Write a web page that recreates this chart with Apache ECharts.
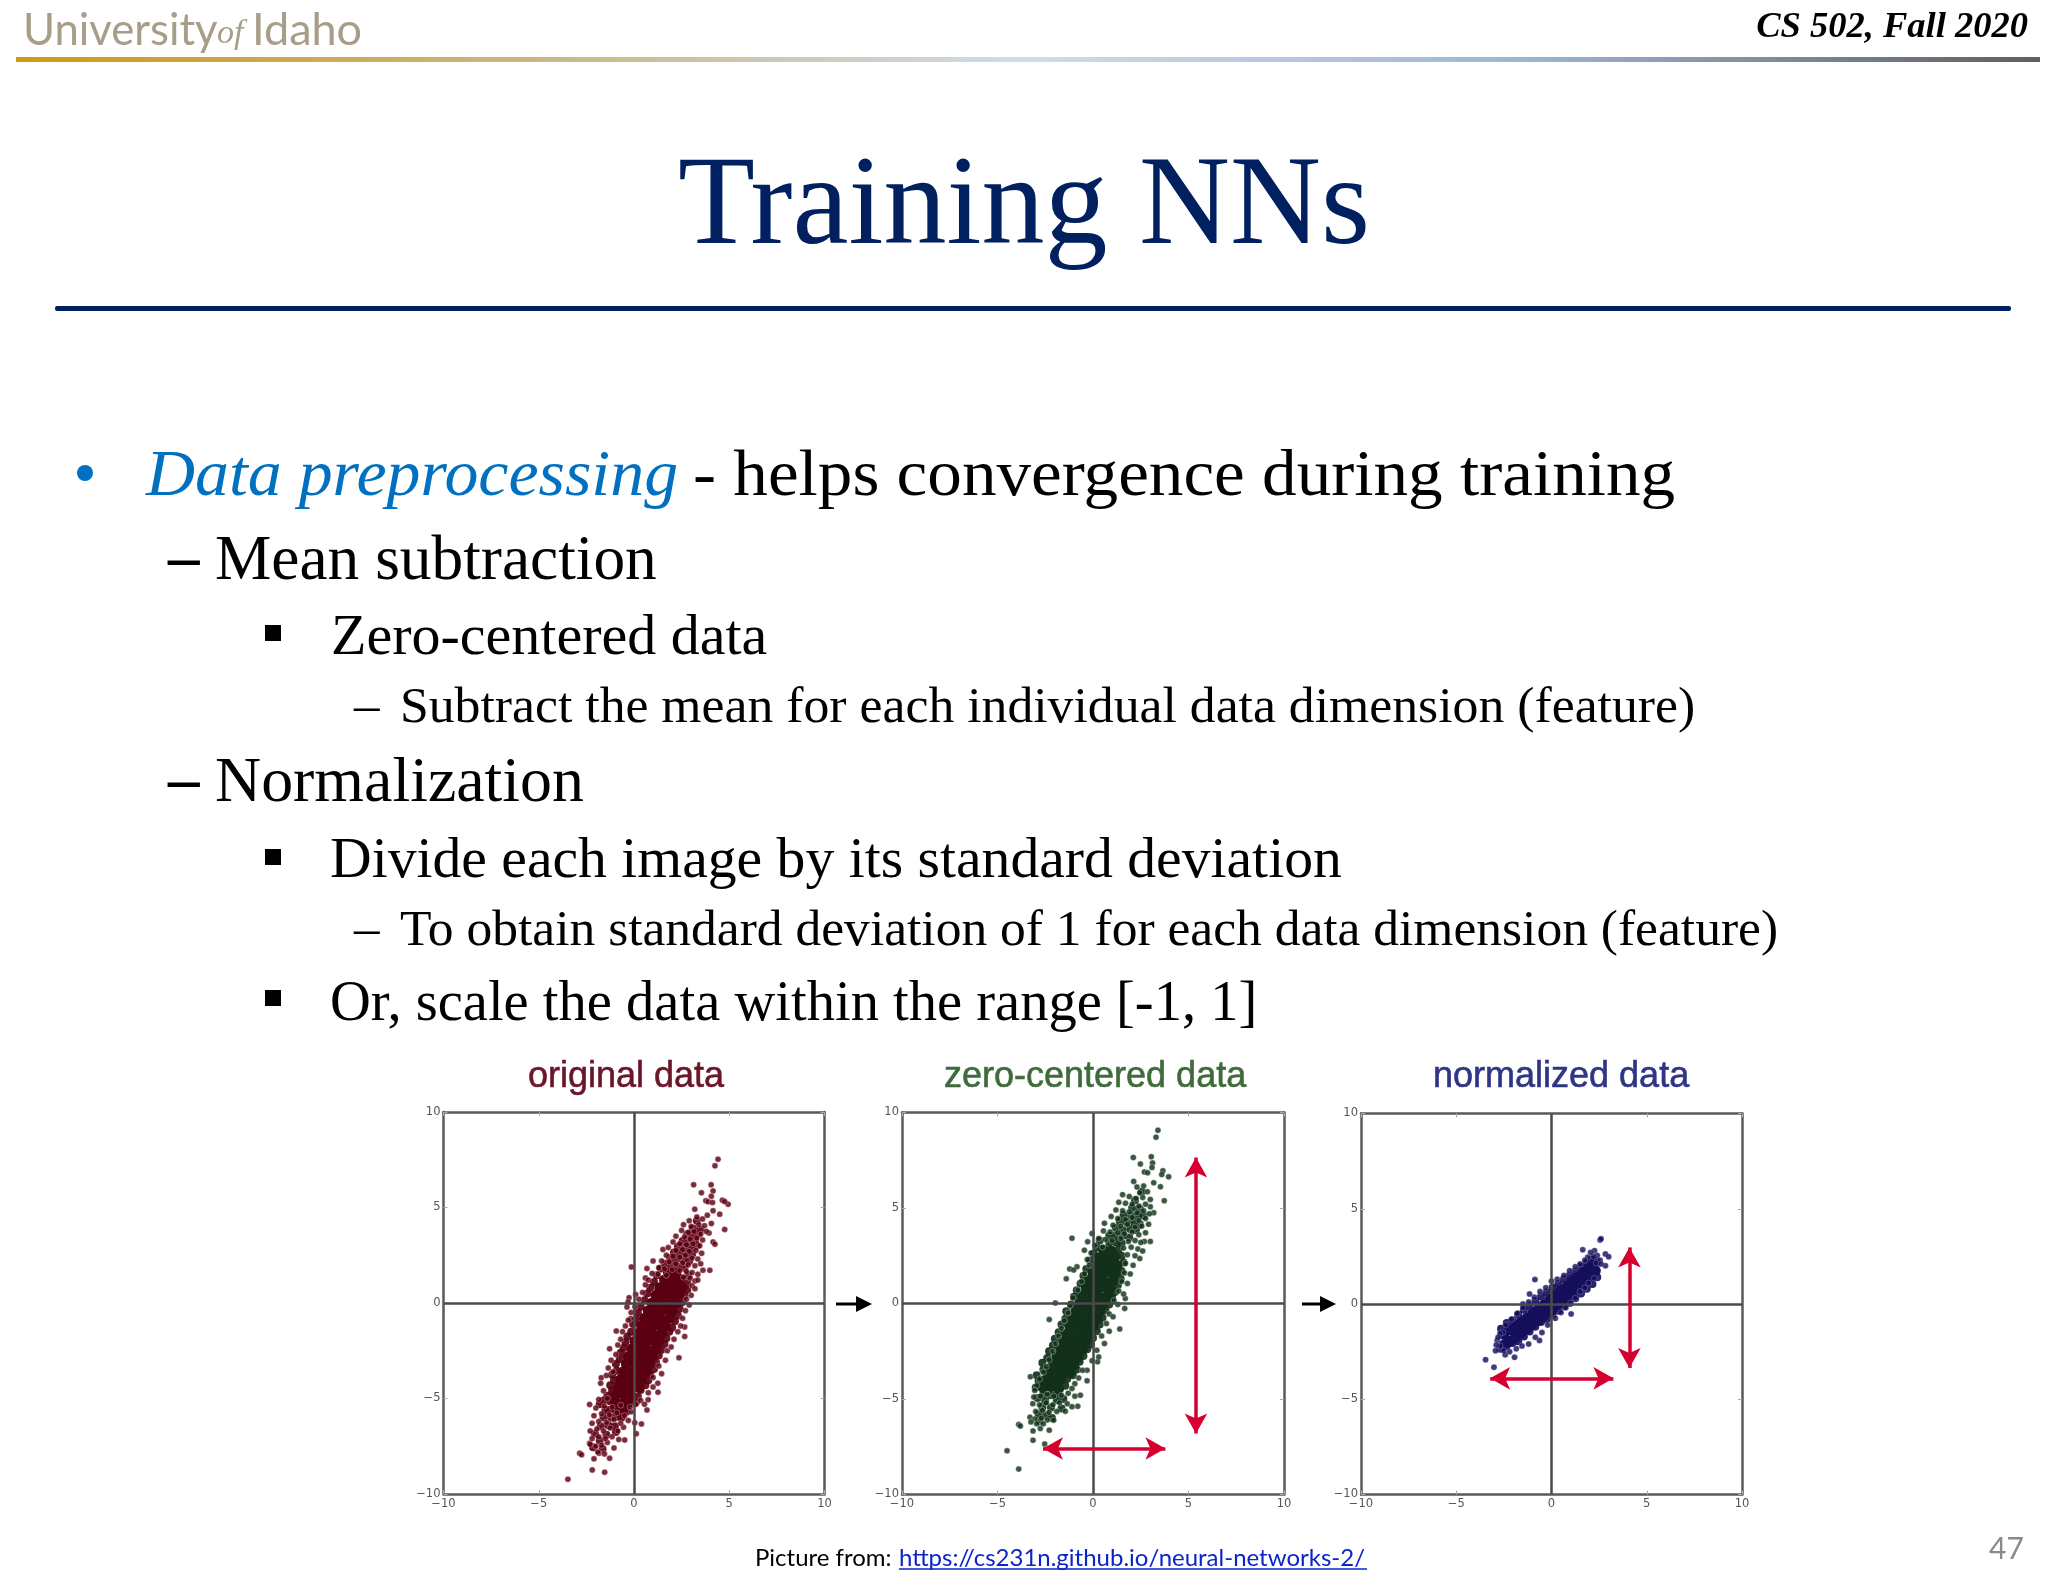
<!DOCTYPE html>
<html>
<head>
<meta charset="utf-8">
<title>Training NNs</title>
<script src="https://cdn.jsdelivr.net/npm/echarts@6/dist/echarts.min.js"></script>
<style>
html,body{margin:0;padding:0;background:#fff}
#main{width:2048px;height:1582px}
</style>
</head>
<body>
<div id="main"></div>
<script>
var axisTicks = [-10, -5, 0, 5, 10];
var plotTitles = ['original data', 'zero-centered data', 'normalized data'];

// points, dense middle of each cloud is drawn with bigger dots
var originalOuter = [
[4.41,7.53],[4.25,7.18],[3.13,6.19],[4.05,6.19],[3.54,5.77],[4.15,5.87],[4.06,5.59],[3.77,5.35],[3.89,5.3],[4.12,5.26],[4.64,5.38],[4.94,5.17],[4.76,5.31],
[3.19,4.91],[4.15,4.83],[4.5,4.65],[4.76,3.85],[4.06,4.16],[3.94,3.67],[4.15,3.2],[4.25,3.08],[3.98,1.71],[3.62,1.71],[-0.14,1.89],[0.68,1.8],[0.6,1.31],[1.0,2.2],[1.52,2.8],
[0.09,0.44],[-0.26,0.28],[-0.31,0.05],[-0.37,-0.21],[-0.18,-0.82],[-0.93,-1.47],[-1.28,-2.4],[2.36,-2.87],[2.66,-1.75],[2.66,-1.26],[1.26,-4.67],[0.74,-5.07],[0.68,-5.6],
[0.39,-6.33],[0.12,-6.85],[0.04,-6.27],[-0.49,-7.17],[-1.05,-7.59],[-1.28,-8.13],[-1.54,-8.86],[-2.19,-8.74],[-2.1,-8.16],[-2.85,-7.87],[-2.75,-7.95],[-3.47,-9.23],[-1.84,-7.87],[-2.33,-7.34],[-2.33,-5.31],[-1.72,-3.92],
[2.9,4.3],[3.3,4.5],[3.6,4.4],[3.85,4.6],[2.6,4.1],[3.0,4.0],[3.4,4.1],[3.7,4.05],[2.5,3.8],[2.85,3.7],[3.15,3.75],[3.5,3.6],[3.8,3.75],[2.2,3.5],[2.65,3.45],[2.95,3.35],[3.3,3.4],[3.6,3.3],
[2.05,3.2],[2.4,3.1],[2.75,3.05],[3.1,3.1],[3.45,3.0],[1.8,2.9],[2.2,2.75],[2.55,2.8],[2.9,2.7],[3.25,2.75],[3.55,2.6],[1.7,2.5],[2.05,2.45],[2.4,2.4],[2.7,2.5],[3.05,2.35],[3.35,2.3],
[1.45,2.2],[1.85,2.15],[2.2,2.05],[2.55,2.1],[2.85,2.0],[3.2,1.95],[3.5,2.05],[1.3,1.85],[1.6,1.8],[2.0,1.75],[2.4,1.7],[2.75,1.65],[3.05,1.6],[3.35,1.5],[1.25,1.5],[1.7,1.45],[2.6,1.35],[2.95,1.3],[3.2,1.15],
[-2.3,-7.4],[-2.0,-7.5],[-1.7,-7.45],[-1.4,-7.3],[-1.9,-7.8],[-1.55,-7.9],[-2.2,-7.1],[-1.85,-7.0],[-1.5,-7.1],[-1.15,-7.0],[-0.8,-7.15],[-2.3,-6.7],[-1.95,-6.6],[-1.6,-6.7],[-1.25,-6.55],[-0.85,-6.7],[-0.55,-6.5],
[-2.2,-6.3],[-1.85,-6.2],[-1.45,-6.25],[-1.05,-6.1],[-0.7,-6.3],[-0.3,-6.15],[-2.1,-5.9],[-1.7,-5.8],[-1.3,-5.85],[-0.9,-5.75],[-0.5,-5.9],[-0.15,-5.7],[-2.0,-5.5],[-1.55,-5.4],[-1.15,-5.45],[-0.7,-5.35],[-0.2,-5.45],[0.1,-5.3],
[-1.85,-5.05],[-1.4,-5.0],[0.35,-5.1],[0.55,-5.3],[-1.6,-4.6],[-1.75,-4.2],[-1.45,-3.8],[-1.35,-3.4],[-1.1,-3.6],[-1.2,-3.0],[-0.95,-2.7],[-0.85,-2.2],[-0.7,-1.9],[-0.6,-1.5],[-0.45,-1.2],[-0.3,-0.9],[-0.15,-0.5],[0.05,-0.2],[0.25,0.2],[0.45,0.55],[0.6,0.95],[0.75,1.2],[0.95,1.55],
[0.75,-4.7],[1.0,-4.4],[1.25,-4.2],[1.0,-3.9],[1.45,-3.7],[1.3,-3.3],[1.65,-3.0],[1.75,-2.5],[1.95,-2.3],[2.1,-1.9],[2.3,-1.5],[2.45,-1.2],[2.55,-0.8],[2.7,-0.4],[2.9,-0.1],[2.75,0.2],[3.0,0.4],[3.05,0.9],[3.2,0.75],[3.35,1.2]
];
var originalMid = [
[-1.35,-5.6],[-1.25,-5.15],[-1.4,-4.85],[-1.15,-4.6],[-1.25,-4.3],[-1.05,-4.05],[-1.15,-3.75],[-0.9,-3.55],[-0.95,-3.2],[-0.75,-2.95],[-0.7,-2.6],[-0.55,-2.35],[-0.45,-2.05],[-0.35,-1.75],[-0.15,-1.5],[-0.05,-1.1],[0.1,-0.85],[0.2,-0.5],[0.35,-0.2],[0.55,0.15],[0.7,0.5],[0.85,0.8],[1.05,1.1],[1.2,1.45],[1.4,1.8],
[0.1,-5.2],[0.2,-4.9],[0.35,-4.55],[0.6,-4.3],[0.75,-4.05],[0.85,-3.75],[1.05,-3.45],[1.15,-3.1],[1.3,-2.75],[1.45,-2.45],[1.6,-2.15],[1.7,-1.85],[1.85,-1.5],[2.0,-1.3],[2.15,-0.95],[2.3,-0.65],[2.4,-0.3],[2.55,0.05],[2.65,0.4],[2.8,0.7],[2.8,1.05],[2.85,1.45],
[-1.6,-6.0],[-1.2,-6.0],[-0.85,-5.95],[-1.5,-5.6],[-1.8,-5.3],[-1.6,-5.1],[-1.35,-6.4],[-1.0,-6.45],[-0.65,-6.0],[-0.4,-5.7],[-0.95,-6.75],[-1.45,-6.9],[-1.75,-6.45],[-2.05,-6.85],[-1.8,-7.2],[-2.15,-7.55],[-1.65,-7.65],
[1.65,2.05],[2.0,2.0],[2.3,1.9],[2.65,1.85],[1.9,2.35],[2.25,2.3],[2.6,2.25],[2.9,2.2],[2.1,2.65],[2.45,2.6],[2.75,2.6],[3.05,2.55],[2.3,2.95],[2.65,2.9],[3.0,2.85],[3.3,3.0],[2.55,3.25],[2.85,3.2],[3.2,3.25],[2.8,3.6],[3.05,3.55],[3.35,3.6],[3.1,3.9],[3.5,3.85],[3.3,4.3]
];
var originalCore = [
[-0.9,-5.6],[-0.5,-5.55],[-1.0,-5.2],[-0.6,-5.25],[-0.2,-5.15],[-0.95,-4.8],[-0.55,-4.75],[-0.15,-4.85],[-0.8,-4.4],[-0.4,-4.45],[0.0,-4.35],[0.25,-4.4],
[-0.7,-4.0],[-0.3,-4.05],[0.1,-3.95],[0.4,-4.0],[-0.55,-3.6],[-0.15,-3.65],[0.25,-3.55],[0.65,-3.6],[-0.4,-3.2],[0.0,-3.15],[0.4,-3.25],[0.8,-3.2],
[-0.3,-2.8],[0.15,-2.85],[0.55,-2.75],[0.95,-2.8],[-0.1,-2.4],[0.3,-2.35],[0.7,-2.45],[1.15,-2.4],[0.05,-2.0],[0.45,-2.05],[0.85,-1.95],[1.3,-2.0],
[0.2,-1.6],[0.6,-1.55],[1.0,-1.65],[1.45,-1.6],[0.4,-1.2],[0.8,-1.25],[1.2,-1.15],[1.65,-1.2],[0.55,-0.8],[0.95,-0.75],[1.4,-0.85],[1.85,-0.8],
[0.75,-0.4],[1.15,-0.45],[1.55,-0.35],[2.0,-0.4],[0.95,0.0],[1.35,0.05],[1.8,-0.05],[2.2,0.0],[1.15,0.4],[1.55,0.35],[2.0,0.45],[2.35,0.4],
[1.35,0.8],[1.75,0.85],[2.2,0.75],[2.5,0.8],[1.6,1.2],[2.0,1.15],[2.4,1.25],[1.8,1.6],[2.2,1.55]
];

var centeredOuter = [
[3.4,9.07],[3.3,8.71],[2.11,7.64],[3.05,7.68],[3.12,7.36],[2.48,7.3],[2.69,6.88],[2.86,6.84],[3.66,6.95],[3.6,6.75],[3.96,6.63],[3.09,7.12],[2.13,6.39],[3.18,6.32],[3.53,6.11],[3.73,5.38],[3.0,5.06],[3.18,4.75],[2.91,4.15],[2.69,3.25],[3.0,3.25],
[-1.1,3.42],[-0.28,3.23],[-0.45,2.79],[-0.05,3.66],[-0.84,1.92],[-1.22,1.81],[-1.01,1.75],[-1.4,1.29],[-1.97,0.03],[-2.29,-0.84],[1.66,-0.26],[1.69,0.26],[1.4,-1.34],[0.24,-3.05],[-0.31,-3.49],[-0.31,-4.05],[-0.66,-4.8],[-0.8,-5.38],[-1.45,-5.64],
[-2.06,-6.11],[-2.29,-6.63],[-2.76,-6.54],[-3.14,-6.67],[-3.14,-7.16],[-3.89,-6.34],[-3.8,-6.42],[-2.53,-7.36],[-4.5,-7.71],[-3.89,-8.67],[-3.28,-3.84],
[2.3,6.1],[2.65,6.15],[2.45,5.8],[2.85,5.85],[1.55,5.7],[1.9,5.6],[2.25,5.5],[2.6,5.55],[3.0,5.45],[1.35,5.3],[1.7,5.25],[2.05,5.2],[2.4,5.1],[2.75,5.2],[1.2,4.9],[1.55,4.85],[1.9,4.8],[2.3,4.75],[2.65,4.85],[2.95,4.7],
[0.95,4.55],[1.3,4.45],[1.7,4.4],[2.05,4.5],[2.4,4.35],[2.75,4.45],[0.6,4.2],[1.05,4.1],[1.45,4.05],[1.8,4.15],[2.2,4.0],[2.55,4.05],[0.55,3.8],[0.9,3.75],[1.3,3.7],[1.65,3.65],[2.05,3.75],[2.4,3.6],[2.75,3.7],
[0.3,3.4],[0.65,3.35],[1.0,3.3],[1.45,3.4],[1.85,3.25],[2.2,3.3],[2.5,3.2],[0.1,3.05],[0.5,2.95],[1.6,2.9],[2.0,2.95],[2.35,2.85],[2.6,2.75],[-0.1,2.65],[1.8,2.55],[2.2,2.5],[2.45,2.35],[-0.3,2.3],[-0.2,2.0],[1.7,2.1],[2.1,2.0],[-0.45,1.55],[1.65,1.6],[1.95,1.55],[-0.6,1.15],[1.5,1.15],[1.8,1.05],[-0.8,0.7],[1.35,0.65],[1.6,0.5],
[-1.05,0.3],[-1.2,-0.1],[1.1,0.15],[1.3,-0.05],[-1.3,-0.5],[-1.5,-0.9],[0.85,-0.55],[1.05,-0.7],[-1.65,-1.3],[-1.8,-1.7],[0.7,-1.05],[0.85,-1.45],[-1.95,-2.1],[-2.1,-2.5],[0.45,-1.7],[0.6,-2.1],[-2.3,-2.95],[-2.45,-3.3],[0.2,-2.45],[0.3,-2.8],[-2.6,-3.6],[-0.05,-3.0],
[-2.8,-3.95],[-2.95,-4.3],[-3.05,-4.55],[-0.55,-3.5],[-0.75,-3.9],[-0.95,-4.2],[-1.1,-4.45],[-3.1,-4.9],[-2.75,-4.85],[-2.4,-4.75],[-2.05,-4.85],[-1.65,-4.8],[-1.3,-4.7],[-0.95,-4.85],[-3.15,-5.25],[-2.8,-5.3],[-2.45,-5.2],[-2.1,-5.3],[-1.75,-5.2],[-1.35,-5.25],[-1.1,-5.4],
[-3.0,-5.65],[-2.65,-5.6],[-2.3,-5.7],[-1.9,-5.65],[-3.3,-5.95],[-3.05,-6.05],[-2.7,-6.0],[-2.4,-6.1],[-2.95,-6.3],[-2.6,-6.3],[-3.25,-6.2]
];
var centeredMid = [
[-3.0,-4.4],[-2.85,-4.05],[-2.95,-3.75],[-2.6,-3.45],[-2.65,-3.1],[-2.4,-2.85],[-2.3,-2.5],[-2.1,-2.2],[-2.0,-1.85],[-1.8,-1.5],[-1.65,-1.1],[-1.45,-0.8],[-1.4,-0.4],[-1.15,-0.05],[-1.0,0.35],[-0.85,0.7],[-0.65,1.05],[-0.5,1.45],[-0.35,1.8],[-0.15,2.25],[0.05,2.6],[0.2,2.95],[0.35,3.3],
[-1.45,-4.3],[-1.35,-3.95],[-1.05,-3.75],[-0.85,-3.45],[-0.7,-3.05],[-0.5,-2.75],[-0.3,-2.4],[-0.1,-2.15],[0.0,-1.8],[0.2,-1.45],[0.35,-1.1],[0.5,-0.75],[0.65,-0.35],[0.85,-0.05],[1.0,0.3],[1.15,0.6],[1.3,0.95],[1.45,1.3],[1.5,1.7],[1.6,2.15],[1.5,2.5],[1.35,2.85],[1.2,3.2],
[-2.6,-4.75],[-2.2,-4.8],[-1.85,-4.7],[-2.9,-4.95],[-2.5,-5.1],[-1.9,-5.05],[-1.55,-5.0],[-2.65,-5.45],[-2.2,-5.45],[-1.65,-5.5],[-2.85,-5.8],[-2.45,-5.85],[-2.15,-6.0],[-2.8,-6.15],
[0.85,3.2],[1.15,3.55],[1.5,3.15],[0.85,3.55],[1.55,3.55],[1.9,3.45],[1.2,3.95],[1.55,3.85],[1.95,3.9],[2.25,3.85],[1.4,4.3],[1.75,4.25],[2.15,4.25],[2.45,4.15],[1.6,4.65],[2.0,4.6],[2.35,4.6],[2.65,4.6],[2.05,5.0],[2.45,4.95],[2.2,5.4],[2.55,5.85]
];
var centeredCore = [
[-2.6,-4.4],[-2.2,-4.35],[-1.8,-4.45],[-2.5,-4.0],[-2.1,-4.05],[-1.7,-3.95],[-2.3,-3.6],[-1.9,-3.55],[-1.5,-3.65],[-1.2,-3.6],[-2.1,-3.2],[-1.7,-3.25],[-1.3,-3.15],[-1.0,-3.2],
[-1.9,-2.8],[-1.5,-2.75],[-1.1,-2.85],[-0.8,-2.8],[-1.7,-2.4],[-1.3,-2.45],[-0.9,-2.35],[-0.55,-2.4],[-1.55,-2.0],[-1.15,-1.95],[-0.75,-2.05],[-0.4,-2.0],[-1.4,-1.6],[-1.0,-1.65],[-0.6,-1.55],[-0.2,-1.6],
[-1.2,-1.2],[-0.8,-1.15],[-0.4,-1.25],[0.0,-1.2],[-1.05,-0.8],[-0.65,-0.85],[-0.25,-0.75],[0.2,-0.8],[-0.9,-0.4],[-0.5,-0.35],[-0.1,-0.45],[0.35,-0.4],[-0.7,0.0],[-0.3,-0.05],[0.1,0.05],[0.55,0.0],
[-0.55,0.4],[-0.15,0.45],[0.3,0.35],[0.75,0.4],[-0.35,0.8],[0.05,0.75],[0.45,0.85],[0.9,0.8],[-0.2,1.2],[0.2,1.25],[0.6,1.15],[1.05,1.2],[0.0,1.6],[0.4,1.55],[0.8,1.65],[1.15,1.6],
[0.15,2.0],[0.55,2.05],[0.95,1.95],[1.25,2.0],[0.35,2.4],[0.75,2.35],[1.15,2.45],[0.55,2.8],[0.95,2.75]
];

var normalizedOuter = [
[2.55,3.36],[2.6,3.42],[2.83,2.62],[3.0,2.48],[2.83,2.01],[2.26,2.8],[1.64,2.85],[-0.87,1.28],[-3.46,-2.92],[-3.02,-3.32],[-2.94,-2.45],[-2.43,-2.67],[-1.94,-2.8],[1.03,-0.52],[-1.5,0.0],[-1.15,0.52],[-2.55,-1.49],[-0.63,-1.92],
[2.4,2.55],[2.55,2.3],[2.2,2.5],[2.05,2.7],[2.35,2.15],[1.9,2.45],[1.75,2.3],[2.6,2.1],[1.5,2.1],[1.25,1.95],[1.95,1.1],[2.25,1.35],[1.75,0.85],[1.5,0.65],[1.25,0.3],[1.0,0.05],[0.75,-0.2],[0.5,-0.45],[0.2,-0.75],
[0.95,1.75],[0.65,1.5],[0.3,1.3],[0.0,1.2],[-0.3,0.85],[-0.6,0.65],[-0.9,0.35],[-1.2,0.1],[-1.5,-0.2],[-1.8,-0.5],[-2.1,-0.8],[-2.4,-1.1],[-2.7,-1.55],[-2.85,-1.9],[-2.7,-2.2],[-2.5,-2.45],[-2.2,-2.5],[-1.85,-2.35],[-1.55,-2.2],[-1.2,-2.1],[-0.85,-1.75],[-0.5,-1.5],[-0.2,-1.1],[-2.8,-1.75],[-2.9,-2.15]
];
var normalizedMid = [
[-2.65,-1.3],[-2.35,-1.0],[-2.05,-0.85],[-1.75,-0.55],[-1.45,-0.3],[-1.15,-0.1],[-0.85,0.15],[-0.55,0.4],[-0.25,0.6],[0.05,0.85],[0.35,1.05],[0.65,1.3],[0.95,1.5],[1.25,1.7],[1.55,1.95],[1.85,2.15],[2.1,2.35],
[-2.7,-2.35],[-2.35,-2.2],[-2.05,-2.05],[-1.75,-1.95],[-1.45,-1.7],[-1.15,-1.45],[-0.85,-1.2],[-0.55,-0.95],[-0.25,-0.8],[0.05,-0.55],[0.35,-0.35],[0.65,-0.1],[0.95,0.05],[1.25,0.3],[1.55,0.55],[1.85,0.8],[2.15,1.05],[2.4,1.4]
];
var normalizedCore = [
[-2.5,-2.15],[-2.5,-1.6],[-2.2,-1.95],[-2.2,-1.35],[-1.9,-1.75],[-1.9,-1.2],[-1.6,-1.5],[-1.6,-0.95],[-1.3,-1.3],[-1.3,-0.75],[-1.3,-1.0],[-1.0,-1.05],[-1.0,-0.5],[-1.0,-0.75],
[-0.7,-0.85],[-0.7,-0.3],[-0.7,-0.55],[-0.4,-0.6],[-0.4,-0.05],[-0.4,-0.3],[-0.1,-0.4],[-0.1,0.2],[-0.1,-0.1],[0.2,-0.15],[0.2,0.45],[0.2,0.15],[0.5,0.1],[0.5,0.7],[0.5,0.4],
[0.8,0.35],[0.8,0.9],[0.8,0.6],[1.1,0.6],[1.1,1.2],[1.1,0.9],[1.4,0.85],[1.4,1.4],[1.4,1.1],[1.7,1.1],[1.7,1.65],[1.7,1.4],[2.0,1.4],[2.0,1.9],[2.3,1.75],[2.3,2.2]
];

var centeredVerticalArrow = [[5.39, 7.64], [5.39, -6.8]];
var centeredHorizontalArrow = [[-2.62, -7.59], [3.79, -7.59]];
var normalizedVerticalArrow = [[4.09, 2.97], [4.09, -3.36]];
var normalizedHorizontalArrow = [[-3.22, -3.9], [3.25, -3.9]];

var plots = [
	{left: 443.5, top: 1112, width: 381, height: 382, dot: '#5a0012', halo: 'rgba(255,215,220,.55)', outer: originalOuter, mid: originalMid, core: originalCore, arrows: []},
	{left: 902, top: 1112.5, width: 382, height: 382, dot: '#12301a', halo: 'rgba(225,245,225,.55)', outer: centeredOuter, mid: centeredMid, core: centeredCore, arrows: [centeredVerticalArrow, centeredHorizontalArrow]},
	{left: 1361, top: 1113.5, width: 381, height: 381, dot: '#150f5c', halo: 'rgba(225,225,250,.4)', outer: normalizedOuter, mid: normalizedMid, core: normalizedCore, arrows: [normalizedVerticalArrow, normalizedHorizontalArrow]}
];

function tickText(v) {
	return String(v).replace('-', '\u2212');
}

function axisOf(kind, grid, pos, labels) {
	return {
		type: 'value',
		gridIndex: grid,
		position: pos,
		min: -10,
		max: 10,
		interval: 5,
		axisLine: {show: true, onZero: false, lineStyle: {color: '#5a5a5a', width: 2.5}},
		axisTick: {show: true, inside: true, length: 4, lineStyle: {color: '#aaa', width: 1}},
		splitLine: {show: false},
		axisLabel: {show: labels, margin: kind == 'x' ? 4 : 3, color: '#555', fontSize: 11.5, fontFamily: 'DejaVu Sans', hideOverlap: false, showMinLabel: true, showMaxLabel: true, formatter: tickText}
	};
}

var grids = [], xAxes = [], yAxes = [], series = [];
plots.forEach(function (p, i) {
	grids.push({left: p.left, top: p.top, width: p.width, height: p.height, show: false});
	xAxes.push(axisOf('x', i, 'bottom', true), axisOf('x', i, 'top', false));
	yAxes.push(axisOf('y', i, 'left', true), axisOf('y', i, 'right', false));
	var ax = i * 2;
	series.push({
		type: 'line', xAxisIndex: ax, yAxisIndex: ax, data: [], silent: true, z: 1, animation: false,
		markLine: {
			silent: true, symbol: 'none', animation: false, label: {show: false},
			lineStyle: {color: '#4a4a4a', width: 2.5, type: 'solid'},
			data: [{xAxis: 0}, {yAxis: 0}]
		}
	});
	series.push({
		type: 'scatter', xAxisIndex: ax, yAxisIndex: ax, data: p.core, symbolSize: 11, z: 2, animation: false,
		itemStyle: {color: p.dot, opacity: 1}
	});
	series.push({
		type: 'scatter', xAxisIndex: ax, yAxisIndex: ax, data: p.mid, symbolSize: 8, z: 3, animation: false,
		itemStyle: {color: p.dot, opacity: 0.92}
	});
	series.push({
		type: 'scatter', xAxisIndex: ax, yAxisIndex: ax, data: p.outer, symbolSize: 6, z: 4, animation: false,
		itemStyle: {color: p.dot, opacity: 0.82, borderColor: p.halo, borderWidth: 0.8}
	});
	series.push({
		type: 'line', xAxisIndex: ax, yAxisIndex: ax, data: [], silent: true, z: 5, animation: false,
		markLine: {
			silent: true, symbol: ['arrow', 'arrow'], symbolSize: [17, 20], animation: false, label: {show: false},
			lineStyle: {color: '#d6002f', width: 3.5, type: 'solid'},
			data: p.arrows.map(function (a) {
				return [{coord: a[0]}, {coord: a[1]}];
			})
		}
	});
});

var SERIF = '"Liberation Serif", serif';

function txt(s, x, base, size, opt) {
	opt = opt || {};
	return {
		type: 'text', z: 10,
		x: x, y: base - size * 0.22,
		scaleX: opt.sx || 1,
		style: {
			text: s, x: 0, y: 0,
			fill: opt.fill || '#000',
			font: (opt.style || '') + ' ' + size + 'px ' + (opt.family || SERIF),
			textAlign: opt.align || 'left',
			textVerticalAlign: 'middle'
		}
	};
}

function blackArrow(x0, x1, y) {
	return [
		{type: 'line', shape: {x1: x0, y1: y, x2: x1 - 10, y2: y}, style: {stroke: '#000', lineWidth: 3}},
		{type: 'polygon', shape: {points: [[x1 - 16, y - 8], [x1, y], [x1 - 16, y + 8]]}, style: {fill: '#000'}}
	];
}

var slide = [
	txt('University', 23, 40, 45, {family: 'Lato', fill: '#a79d88', sx: 0.97}),
	txt('of', 217, 42, 34, {style: 'italic', fill: '#a79d88'}),
	txt('Idaho', 252, 40, 45, {family: 'Lato', fill: '#a79d88'}),
	txt('CS 502, Fall 2020', 2028, 36, 36.5, {style: 'italic bold', align: 'right'}),
	{type: 'rect', shape: {x: 16, y: 57, width: 2024, height: 5}, style: {fill: new echarts.graphic.LinearGradient(0, 0, 1, 0, [
		{offset: 0, color: '#cf9a14'}, {offset: 0.25, color: '#c9b680'}, {offset: 0.5, color: '#cfdcea'}, {offset: 0.75, color: '#9db4d0'}, {offset: 1, color: '#5f5f5f'}
	])}},
	txt('Training NNs', 1024, 238, 126, {align: 'center', fill: '#002060'}),
	{type: 'rect', shape: {x: 55, y: 306, width: 1956, height: 5, r: 2}, style: {fill: '#002060'}},

	{type: 'circle', shape: {cx: 85, cy: 473, r: 8}, style: {fill: '#0070c0'}},
	txt('Data preprocessing', 146, 492, 66, {style: 'italic', fill: '#0070c0', sx: 1.028}),
	txt('- helps convergence during training', 693, 492, 66, {sx: 1.048}),
	txt('\u2013', 168, 576, 63, {style: 'bold'}),
	txt('Mean subtraction', 215, 576, 63, {sx: 1.006}),
	{type: 'rect', shape: {x: 265, y: 625, width: 16, height: 16}, style: {fill: '#000'}},
	txt('Zero-centered data', 331, 652, 58),
	txt('\u2013', 354, 720, 51),
	txt('Subtract the mean for each individual data dimension (feature)', 400, 720, 51, {sx: 1.014}),
	txt('\u2013', 168, 798, 63, {style: 'bold'}),
	txt('Normalization', 215, 798, 63, {sx: 1.014}),
	{type: 'rect', shape: {x: 265, y: 849, width: 16, height: 16}, style: {fill: '#000'}},
	txt('Divide each image by its standard deviation', 330, 875, 58, {sx: 0.994}),
	txt('\u2013', 354, 943, 51),
	txt('To obtain standard deviation of 1 for each data dimension (feature)', 400, 943, 51, {sx: 1.01}),
	{type: 'rect', shape: {x: 265, y: 990, width: 16, height: 16}, style: {fill: '#000'}},
	txt('Or, scale the data within the range [-1, 1]', 330, 1018, 58, {sx: 0.975}),

	txt('Picture from:', 755, 1563.5, 24, {family: 'Lato'}),
	txt('https://cs231n.github.io/neural-networks-2/', 899, 1563.5, 24, {family: 'Lato', fill: '#0b24c8'}),
	{type: 'line', shape: {x1: 899, y1: 1569, x2: 1367, y2: 1569}, style: {stroke: '#0b24c8', lineWidth: 1.5}},
	txt('47', 1989, 1556, 30, {family: 'Lato', fill: '#8a8a8a'})
].concat(blackArrow(836, 872, 1304), blackArrow(1302, 1336, 1304));

var titleColors = ['#6b1528', '#3f6b3c', '#2f3585'];
var titleLefts = [528, 944, 1433];

var myChart = echarts.init(document.getElementById('main'));
var option = {
	animation: false,
	backgroundColor: '#fff',
	title: plotTitles.map(function (t, i) {
		return {
			text: t, left: titleLefts[i], top: 1059, padding: 0,
			textStyle: {color: titleColors[i], fontSize: 36, fontWeight: 'normal', fontFamily: 'Liberation Sans', textBorderColor: titleColors[i], textBorderWidth: 0.6}
		};
	}),
	grid: grids,
	xAxis: xAxes,
	yAxis: yAxes,
	series: series,
	graphic: slide
};
myChart.setOption(option);
</script>
</body>
</html>
